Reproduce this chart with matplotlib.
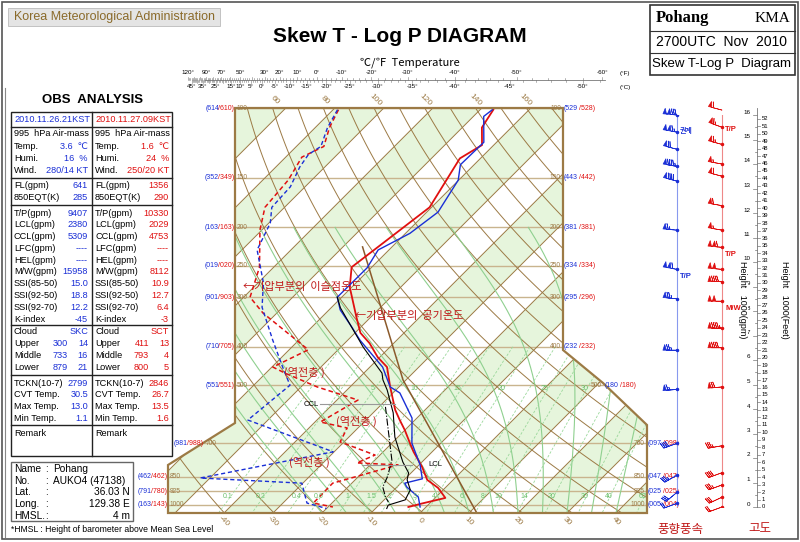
import matplotlib
matplotlib.use("Agg")
import matplotlib.pyplot as plt
import numpy as np
from matplotlib.patches import Polygon, Rectangle

plt.rcParams["font.family"] = ["Liberation Sans Narrow", "Liberation Sans", "DejaVu Sans"]
KR = ["Noto Sans CJK KR", "DejaVu Sans"]

BLUE = "#1a2fd6"
RED = "#e01010"
TAN = "#9c7a45"
DRED = "#c01818"

# ---------------- sounding data (pressure hPa, temperature degC) ----------------
red_t_p = [101, 112, 124, 134, 178, 215, 252, 283, 337, 369, 392, 425, 450, 505, 577,
           612, 649, 700, 736, 803, 866, 908, 962, 996, 1014]
red_t = [-67.3, -66.0, -62.4, -64.2, -60.4, -62.4, -64.1, -60.4, -52.9, -48.9, -44.9,
         -40.4, -36.5, -31.8, -26.1, -23.1, -20.0, -16.3, -13.8, -9.0, -5.3, -1.4, 2.1, -1.8, -3.6]
red_td_p = [101, 112, 125, 133, 152, 178, 203, 252, 300, 329, 407, 450, 466, 505, 545,
            619, 641, 695, 750, 785, 794, 883, 991, 1014]
red_td = [-98.9, -97.1, -94.4, -96.7, -94.8, -94.0, -90.4, -82.9, -78.7, -72.8, -56.1,
          -59.8, -56.1, -46.7, -35.7, -38.9, -32.2, -30.8, -21.0, -23.1, -14.3, -23.9, -23.8, -19.0]
blue_t_p = [101, 105, 122, 139, 152, 183, 207, 228, 253, 300, 323, 357, 385, 450, 505,
            523, 605, 700, 794, 861, 883, 903, 957, 1014]
blue_t = [-67.5, -67.9, -62.6, -62.8, -60.1, -57.7, -59.1, -62.2, -60.8, -60.9, -57.7,
          -51.8, -47.5, -37.4, -31.8, -28.6, -21.0, -15.9, -9.8, -6.5, -9.2, -8.0, -3.6, -1.2]
blue_td_p = [101, 112, 125, 131, 141, 158, 178, 195, 228, 276, 318, 385, 450, 500, 612,
             736, 857, 883, 991, 1023]
blue_td = [-99.1, -97.5, -95.0, -95.9, -95.1, -93.0, -92.6, -89.7, -86.9, -78.9, -74.2,
           -65.3, -57.8, -52.6, -54.1, -30.2, -52.0, -30.2, -25.1, -20.0]
parcel_p = [300, 319, 401, 466, 485, 514, 587, 676, 781, 832, 866, 918, 973, 1003, 1023]
parcel_t = [-60.9, -58.1, -45.4, -36.3, -34.7, -31.8, -25.9, -20.6, -13.9, -10.5, -9.4,
            -6.7, -5.7, -8.1, -7.7]
parcel2_p = [567, 773, 852, 903, 957, 985]
parcel2_t = [-28.7, -16.5, -14.0, -12.9, -10.3, -8.7]
cvt_p = [1050, 485, 224]
cvt_t = [11.6, -30.6, -66.0]

std_p = [100, 150, 200, 250, 300, 400, 500, 700, 850, 925, 1000]
left_blue = ["614", "352", "163", "019", "901", "710", "551", "981", "462", "791", "163"]
left_red = ["610", "349", "163", "020", "903", "705", "551", "988", "462", "780", "143"]
right_blue = ["529", "443", "381", "334", "295", "232", "180", "097", "047", "025", "005"]
right_red = ["528", "442", "381", "334", "296", "232", "180", "098", "047", "025", "004"]

# winds: height (km), direction (deg), speed (kt)
blue_h = [16.0, 15.3, 14.6, 13.9, 13.3, 11.3, 9.7, 8.5, 6.4, 4.8, 2.6, 1.3, 0.6, 0.15]
blue_dir = [275, 280, 285, 280, 285, 275, 280, 275, 270, 265, 250, 240, 230, 250]
blue_spd = [130, 115, 70, 95, 90, 65, 110, 75, 75, 65, 40, 35, 30, 20]
red_h = [16.2, 15.5, 14.8, 14.0, 13.5, 12.3, 11.3, 10.6, 9.7, 9.2, 8.4, 7.3, 6.5, 4.9,
         2.5, 1.4, 0.9, 0.4, 0.0]
red_dir = [285, 290, 285, 280, 285, 280, 280, 275, 275, 270, 270, 270, 270, 265,
           260, 250, 250, 245, 250]
red_spd = [60, 65, 65, 55, 60, 60, 55, 110, 100, 90, 100, 95, 90, 70, 35, 40, 35, 30, 20]

# ---------------- table text ----------------
col1_title = "2010.11.26.21KST"
col2_title = "2010.11.27.09KST"
row_labels = ["Temp.", "Humi.", "Wind."]
col1_air = ["3.6  \u2103", "16  %", "280/14 KT"]
col2_air = ["1.6  \u2103", "24  %", "250/20 KT"]
fl_labels = ["FL(gpm)", "850EQT(K)"]
col1_fl = ["641", "285"]
col2_fl = ["1356", "290"]
idx_labels = ["T/P(gpm)", "LCL(gpm)", "CCL(gpm)", "LFC(gpm)", "HEL(gpm)", "M/W(gpm)",
              "SSI(85-50)", "SSI(92-50)", "SSI(92-70)", "K-index"]
col1_idx = ["9407", "2380", "5309", "----", "----", "15958", "15.0", "18.8", "12.2", "-45"]
col2_idx = ["10330", "2029", "4753", "----", "----", "8112", "10.9", "12.7", "6.4", "-3"]
cloud_labels = ["Upper", "Middle", "Lower"]
col1_cloud = [("300", "14"), ("733", "16"), ("879", "21")]
col2_cloud = [("411", "13"), ("793", "4"), ("800", "5")]
tck_labels = ["TCKN(10-7)", "CVT Temp.", "Max Temp.", "Min Temp."]
col1_tck = ["2799", "30.5", "13.0", "1.1"]
col2_tck = ["2846", "26.7", "13.5", "1.6"]

fig = plt.figure(figsize=(8, 5.42), dpi=100)
bg = fig.add_axes([0, 0, 1, 1])
bg.set_xlim(0, 800)
bg.set_ylim(542, 0)
bg.axis("off")

# frames
bg.add_patch(Rectangle((2, 2), 796, 537, fill=False, lw=1.2, ec="#555555"))
bg.add_patch(Rectangle((8, 8), 212, 18, fc="#e4e4e4", ec="#bbbbbb", lw=0.6))
bg.text(114, 17, "Korea Meteorological Administration", color="#8a6a2a", fontsize=9,
        ha="center", va="center", family=["Liberation Sans", "DejaVu Sans"])
bg.text(400, 37, "Skew T - Log P DIAGRAM", fontsize=15, fontweight="bold", ha="center",
        va="center", family=["Liberation Sans", "DejaVu Sans"])
bg.add_patch(Rectangle((650, 5), 145, 70, fill=False, lw=1.2, ec="#333333"))
bg.plot([650, 795], [31, 31], color="#333333", lw=0.8)
bg.plot([650, 795], [53, 53], color="#333333", lw=0.8)
bg.text(656, 18, "Pohang", fontsize=12, fontweight="bold", family="Liberation Serif", va="center")
bg.text(790, 18, "KMA", fontsize=11, family="Liberation Serif", va="center", ha="right")
bg.text(722, 42, "2700UTC  Nov  2010", fontsize=10, ha="center", va="center",
        family=["Liberation Sans", "DejaVu Sans"])
bg.text(722, 64, "Skew T-Log P  Diagram", fontsize=9.5, ha="center", va="center",
        family=["Liberation Sans", "DejaVu Sans"])

# left panel
bg.plot([5, 5], [88, 537], color="#888888", lw=0.8)
bg.text(92, 100, "OBS  ANALYSIS", fontsize=9.5, fontweight="bold", ha="center", va="center",
        family=["Liberation Sans", "DejaVu Sans"])
bg.add_patch(Rectangle((11, 112), 161, 344, fill=False, lw=1.0, ec="#222222"))
bg.plot([92, 92], [112, 456], color="#222222", lw=1.0)
for yy in [127, 178, 205, 325, 375, 425]:
    bg.plot([11, 172], [yy, yy], color="#222222", lw=1.0)
fs = 6.6
bg.text(14, 119, col1_title, color=BLUE, fontsize=fs, va="center")
bg.text(95, 119, col2_title, color=RED, fontsize=fs, va="center")


def two_cols(labels, v1, v2, y0, dy=11.8):
    for i, lab in enumerate(labels):
        y = y0 + i * dy
        bg.text(14, y, lab, fontsize=fs, va="center")
        bg.text(95, y, lab, fontsize=fs, va="center")
        bg.text(88, y, v1[i], fontsize=fs, va="center", ha="right", color=BLUE)
        bg.text(169, y, v2[i], fontsize=fs, va="center", ha="right", color=RED)


bg.text(14, 134, "995  hPa Air-mass", fontsize=fs, va="center")
bg.text(95, 134, "995  hPa Air-mass", fontsize=fs, va="center")
two_cols(row_labels, col1_air, col2_air, 146.5)
two_cols(fl_labels, col1_fl, col2_fl, 186)
two_cols(idx_labels, col1_idx, col2_idx, 213)
bg.text(14, 332, "Cloud", fontsize=fs, va="center")
bg.text(95, 332, "Cloud", fontsize=fs, va="center")
bg.text(88, 332, "SKC", fontsize=fs, va="center", ha="right", color=BLUE)
bg.text(169, 332, "SCT", fontsize=fs, va="center", ha="right", color=RED)
for i, lab in enumerate(cloud_labels):
    y = 344 + i * 12
    bg.text(14, y, lab, fontsize=fs, va="center")
    bg.text(95, y, lab, fontsize=fs, va="center")
    bg.text(68, y, col1_cloud[i][0], fontsize=fs, va="center", ha="right", color=BLUE)
    bg.text(88, y, col1_cloud[i][1], fontsize=fs, va="center", ha="right", color=BLUE)
    bg.text(149, y, col2_cloud[i][0], fontsize=fs, va="center", ha="right", color=RED)
    bg.text(169, y, col2_cloud[i][1], fontsize=fs, va="center", ha="right", color=RED)
two_cols(tck_labels, col1_tck, col2_tck, 383)
bg.text(14, 433, "Remark", fontsize=fs, va="center")
bg.text(95, 433, "Remark", fontsize=fs, va="center")

bg.add_patch(Rectangle((11, 462), 122, 59, fill=False, lw=1.0, ec="#666666"))
SF = ["Liberation Sans", "DejaVu Sans"]
st_keys = ["Name", "No.", "Lat.", "Long.", "HMSL."]
st_vals = ["Pohang", "AUKO4 (47138)", "36.03 N", "129.38 E", "4 m"]
for i, k in enumerate(st_keys):
    y = 469 + i * 11.7
    bg.text(14, y, k, fontsize=7.3, va="center", family=SF)
    bg.text(45, y, ":", fontsize=7.3, va="center", family=SF)
    if i < 2:
        bg.text(53, y, st_vals[i], fontsize=7.3, va="center", family=SF)
    else:
        bg.text(130, y, st_vals[i], fontsize=7.3, va="center", ha="right", family=SF)
bg.text(11, 530, "*HMSL : Height of barometer above Mean Sea Level", fontsize=6.2, va="center")

# temperature ruler on top
bg.text(410, 63, "\u2103/\u2109  Temperature", fontsize=8, ha="center", va="center",
        family=["Noto Sans CJK KR", "DejaVu Sans"])


def ruler_x(tc):
    return 67.5 + 15614.0 / (np.asarray(tc, dtype=float) + 80.3)


bg.plot([205, 605], [80, 80], color="#777777", lw=0.6)
for tc in range(-51, 46):
    x = ruler_x(tc)
    h = 3 if tc % 5 == 0 else 1.6
    bg.plot([x, x], [80, 80 + h], color="#777777", lw=0.4)
for tf in range(-60, 121, 2):
    x = ruler_x((tf - 32) / 1.8)
    h = 3 if tf % 10 == 0 else 1.6
    bg.plot([x, x], [80 - h, 80], color="#777777", lw=0.4)
for tf in [120, 90, 70, 50, 30, 20, 10, 0, -10, -20, -30, -40, -50, -60]:
    bg.text(ruler_x((tf - 32) / 1.8), 73, f"{tf}\u00b0", fontsize=4.5, ha="center", va="center")
for tc in [45, 35, 25, 15, 10, 5, 0, -5, -10, -15, -20, -25, -30, -35, -40, -45, -50]:
    bg.text(ruler_x(tc), 87, f"{tc}\u00b0", fontsize=4.5, ha="center", va="center")
bg.text(620, 73, "(\u00b0F)", fontsize=4.5, va="center")
bg.text(620, 87, "(\u00b0C)", fontsize=4.5, va="center")

# ---------------- skew-T ----------------
X0, X1, Y0, Y1 = 168, 647, 108, 513
ax = fig.add_axes([X0 / 800, (542 - Y1) / 542, (X1 - X0) / 800, (Y1 - Y0) / 542])
ax.set_yscale("log")
ax.set_ylim(1050, 100)
ax.set_xlim((X0 - 420) / 4.9, (X1 - 420) / 4.9)
ax.axis("off")
ax.patch.set_alpha(0)

SK = 80.9


def sx(t, p):
    return np.asarray(t, dtype=float) + SK * np.log10(1050.0 / np.asarray(p, dtype=float))


pp = np.geomspace(100, 1050, 120)
outline = [(235, 108), (563, 108), (563, 350), (603, 383), (647, 425), (647, 513),
           (168, 513), (168, 465), (235, 423)]
clip = Polygon(outline, closed=True, transform=bg.transData, fill=False)
arts = []

# shaded isotherm bands
for t0 in range(-160, 60, 20):
    xs = np.concatenate([sx(t0, pp), sx(t0 + 10, pp[::-1])])
    ys = np.concatenate([pp, pp[::-1]])
    arts += ax.fill(xs, ys, color="#e6f5dc", lw=0)
# isobars
for p in std_p:
    arts += ax.plot([-60, 60], [p, p], color="#c9b48e", lw=1.0)
# isotherms
for t0 in range(-160, 60, 10):
    arts += ax.plot(sx(t0, pp), pp, color=TAN, lw=0.7)
# dry adiabats
for th in range(230, 500, 10):
    tt = th * (pp / 1000.0) ** 0.286 - 273.15
    arts += ax.plot(sx(tt, pp), pp, color=TAN, lw=0.7)


# moist adiabats
def moist(t_start):
    ps = np.geomspace(1050, 200, 200)
    ts = [t_start]
    for i in range(1, len(ps)):
        t = ts[-1]
        tk = t + 273.15
        es = 6.112 * np.exp(17.67 * t / (t + 243.5))
        rs = 0.622 * es / (ps[i - 1] - es)
        g = (287 * tk + 2.5e6 * rs) / (1004 + 2.5e6 ** 2 * rs * 0.622 / (287 * tk * tk)) / ps[i - 1]
        ts.append(t + g * (ps[i] - ps[i - 1]))
    return ps, np.array(ts)


for t0 in range(-20, 45, 5):
    ps, ts = moist(t0)
    arts += ax.plot(sx(ts, ps), ps, color="#8fd08f", lw=0.8)
    if 0 <= t0 <= 30:
        i = np.argmin(abs(ps - 500))
        arts.append(ax.text(sx(ts[i], 500) + 1.2, 515, str(t0), color="#6cc06c", fontsize=5))
# mixing ratio lines
wp = np.geomspace(400, 1050, 40)
for w in [0.1, 0.2, 0.4, 0.6, 1, 1.5, 2, 3, 4, 6, 8, 10, 14, 20, 30, 40, 60]:
    e = w * wp / (622.0 + w)
    lne = np.log(e / 6.112)
    td = 243.5 * lne / (17.67 - lne)
    arts += ax.plot(sx(td, wp), wp, color="#9bd89b", lw=0.6, ls=(0, (3, 2)))
    arts.append(ax.text(sx(td[-4], wp[-4]), 965, f"{w:g}", color="#6cc06c", fontsize=5,
                        ha="center"))

for a in arts:
    a.set_clip_path(clip)

# brown CVT line
ax.plot(sx(cvt_t, cvt_p), cvt_p, color="#8b5a2b", lw=1.1)

# profiles
ax.plot(sx(red_t, red_t_p), red_t_p, color=RED, lw=1.3)
ax.plot(sx(blue_t, blue_t_p), blue_t_p, color=BLUE, lw=1.0)
ax.plot(sx(red_td, red_td_p), red_td_p, color=RED, lw=1.1, ls=(0, (3, 2)))
ax.plot(sx(blue_td, blue_td_p), blue_td_p, color=BLUE, lw=1.0, ls=(0, (3, 2)))
ax.plot(sx(parcel_t, parcel_p), parcel_p, color="black", lw=0.8)
ax.plot(sx(parcel2_t, parcel2_p), parcel2_p, color="black", lw=0.8, ls="-.")

# ---------------- overlay for outline and labels ----------------
ov = fig.add_axes([0, 0, 1, 1])
ov.set_xlim(0, 800)
ov.set_ylim(542, 0)
ov.axis("off")
ov.patch.set_alpha(0)
ov.add_patch(Polygon(outline, closed=True, fill=False, ec=TAN, lw=1.6))

for i, p in enumerate(std_p):
    y = 108 + 396.6 * (np.log10(p) - 2)
    if p <= 500:
        xl = 235
    elif p == 700:
        xl = 204
    else:
        xl = 168
    xr = 563 if p <= 400 else (604 if p == 500 else 647)
    ov.text(xl + 2, y, str(p), fontsize=4.8, color=TAN, va="center")
    ov.text(xr - 2, y, str(p), fontsize=4.8, color=TAN, va="center", ha="right")
    ov.text(xl - 1, y, "/" + left_red[i] + ")", fontsize=5, color=RED, va="center", ha="right")
    ov.text(xl - 16, y, "(" + left_blue[i], fontsize=5, color=BLUE, va="center", ha="right")
    ov.text(xr + 1, y, "(" + right_blue[i], fontsize=5, color=BLUE, va="center")
    ov.text(xr + 16, y, "/" + right_red[i] + ")", fontsize=5, color=RED, va="center")

for t0 in range(-40, 50, 10):
    ov.text(420 + 4.9 * t0, 521, str(t0), fontsize=6, color=TAN, rotation=-45,
            ha="center", va="center")
for i, lab in enumerate([60, 80, 100, 120, 140, 160]):
    ov.text(275 + 50 * i, 100, str(lab), fontsize=6, color=TAN, rotation=-45,
            ha="center", va="center")

ov.plot([395, 320], [404, 404], color="#999999", lw=0.8)
ov.text(319, 404, "CCL", fontsize=5.5, va="center", ha="right")
ov.plot([362, 412], [465, 465], color="#999999", lw=0.8)
ov.text(428, 465, "LCL", fontsize=5.5, va="center")
ann = [(243, 287, "\u2190기압부분의  이슬점온도"), (355, 316, "\u2190기압부분의  공기온도"),
       (284, 372, "(역전층 )"), (336, 421, "(역전층 )"), (289, 462, "(역전층 )")]
for x, y, s in ann:
    ov.text(x, y, s, color=DRED, fontsize=8, va="center", family=KR)

# ---------------- winds ----------------
bax = fig.add_axes([645 / 800, (542 - 507) / 542, 100 / 800, 392 / 542])
bax.set_xlim(645, 745)
bax.set_ylim(0, 16)
bax.axis("off")
bax.patch.set_alpha(0)


def uv(d, s):
    r = np.deg2rad(np.asarray(d, dtype=float))
    s = np.asarray(s, dtype=float)
    return -s * np.sin(r), -s * np.cos(r)


bax.plot([677, 677], [0, 16.2], color="#8899ee", lw=0.8)
bax.plot([722, 722], [0, 16.4], color="#ee8888", lw=0.8)
u, v = uv(blue_dir, blue_spd)
bax.barbs(np.full(len(blue_h), 677), blue_h, u, v, color=BLUE, length=4.5, lw=0.5,
          clip_on=False, sizes=dict(emptybarb=0))
u, v = uv(red_dir, red_spd)
bax.barbs(np.full(len(red_h), 722), red_h, u, v, color=RED, length=4.5, lw=0.5,
          clip_on=False, sizes=dict(emptybarb=0))
bax.plot(np.full(len(blue_h), 677), blue_h, "o", color=BLUE, ms=1.5)
bax.plot(np.full(len(red_h), 722), red_h, "o", color=RED, ms=1.5)
bax.text(680, 15.35, "권계", color=BLUE, fontsize=5, fontweight="bold", family=KR, va="center")
bax.text(680, 9.4, "T/P", color=BLUE, fontsize=5.5, fontweight="bold", va="center")
bax.text(725, 15.4, "T/P", color=RED, fontsize=5.5, fontweight="bold", va="center")
bax.text(725, 10.3, "T/P", color=RED, fontsize=5.5, fontweight="bold", va="center")
bax.text(725, 8.1, "M/W", color=RED, fontsize=5.5, fontweight="bold", va="center")
bg.text(680, 529, "풍향풍속", color=DRED, fontsize=9, ha="center", va="center", family=KR)
bg.text(760, 529, "고도", color=DRED, fontsize=9, ha="center", va="center", family=KR)

# height ruler
RX = 757


def hy(km):
    return 507 - 24.5 * np.asarray(km, dtype=float)


bg.plot([RX, RX], [hy(0), hy(16.3)], color="#777777", lw=0.6)
for k in np.arange(0, 16.01, 0.5):
    w = 4 if k % 1 == 0 else 2
    bg.plot([RX - w, RX], [hy(k), hy(k)], color="#777777", lw=0.5)
    if k % 1 == 0:
        bg.text(RX - 7, hy(k) - 3, str(int(k)), fontsize=4.5, ha="right", va="center")
for kf in range(0, 53):
    y = hy(kf * 0.3048)
    bg.plot([RX, RX + 3], [y, y], color="#777777", lw=0.5)
    bg.text(RX + 5, y, str(kf), fontsize=4.2, va="center")
bg.text(743, 300, "Height   1000(gpm)", rotation=-90, fontsize=6.5, ha="center", va="center",
        bbox=dict(fc="white", ec="none", pad=0.3))
bg.text(784, 300, "Height   1000(Feet)", rotation=-90, fontsize=6.5, ha="center", va="center",
        bbox=dict(fc="white", ec="none", pad=0.3))

fig.savefig("out.png", dpi=100)
